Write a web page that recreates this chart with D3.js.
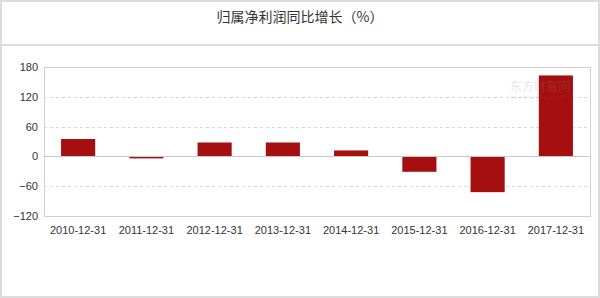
<!DOCTYPE html>
<html>
<head>
<meta charset="utf-8">
<script src="https://cdn.jsdelivr.net/npm/d3@7"></script>
<style>
  html, body { margin: 0; padding: 0; background: #fff; }
  svg { display: block; font-family: "Liberation Sans", Arial, sans-serif; }
</style>
</head>
<body>
<div id="chart"></div>
<script>
var title = "归属净利润同比增长（%）";
var categories = ["2010-12-31", "2011-12-31", "2012-12-31", "2013-12-31",
                  "2014-12-31", "2015-12-31", "2016-12-31", "2017-12-31"];
var values = [35, -4, 28, 28, 12, -31, -72, 163];
var yTicks = [-120, -60, 0, 60, 120, 180];

var W = 600, H = 298;
var margin = { top: 67, right: 10, bottom: 82, left: 44 };
var iW = W - margin.left - margin.right;
var iH = H - margin.top - margin.bottom;

var svg = d3.select("#chart").append("svg")
  .attr("width", W).attr("height", H);

// outer frame and title band
svg.append("rect")
  .attr("x", 1).attr("y", 1).attr("width", W - 2).attr("height", H - 2)
  .attr("fill", "#fff").attr("stroke", "#dcdcdc").attr("stroke-width", 2);
svg.append("line")
  .attr("x1", 1).attr("x2", W - 1).attr("y1", 45).attr("y2", 45)
  .attr("stroke", "#dcdcdc").attr("stroke-width", 2);
svg.append("text")
  .attr("x", W / 2).attr("y", 22)
  .attr("text-anchor", "middle")
  .attr("font-family", "'Noto Sans CJK SC', sans-serif")
  .attr("font-size", 14).attr("fill", "#333")
  .text(title);

var g = svg.append("g")
  .attr("transform", "translate(" + margin.left + "," + margin.top + ")");

var x = d3.scaleBand().domain(categories).range([0, iW]).paddingInner(0.5).paddingOuter(0.25);
var y = d3.scaleLinear().domain([-120, 180]).range([iH, 0]);

// plot frame
g.append("rect")
  .attr("x", 0.5).attr("y", 0.5).attr("width", iW).attr("height", iH)
  .attr("fill", "none").attr("stroke", "#d0d0d0");

// grid
g.selectAll(".grid")
  .data(yTicks.filter(function (t) { return t !== 0 && t !== -120 && t !== 180; }))
  .join("line")
  .attr("class", "grid")
  .attr("x1", 0).attr("x2", iW)
  .attr("y1", function (d) { return Math.round(y(d)) + 0.5; })
  .attr("y2", function (d) { return Math.round(y(d)) + 0.5; })
  .attr("stroke", "#d8d8d8").attr("stroke-dasharray", "3,3");

// bars
g.selectAll(".bar")
  .data(values)
  .join("rect")
  .attr("class", "bar")
  .attr("x", function (d, i) { return x(categories[i]); })
  .attr("width", x.bandwidth())
  .attr("y", function (d) { return y(Math.max(0, d)); })
  .attr("height", function (d) { return Math.abs(y(d) - y(0)); })
  .attr("fill", "#a50f0f");

// zero line
g.append("line")
  .attr("x1", 0).attr("x2", iW)
  .attr("y1", Math.round(y(0)) + 0.5).attr("y2", Math.round(y(0)) + 0.5)
  .attr("stroke", "#c8c8c8");

// watermark, faint, over the plot
var wm = g.append("g").attr("transform", "translate(" + (iW - 80) + ",24)").attr("opacity", 0.2);
wm.append("text").attr("x", 0).attr("y", 0)
  .attr("font-family", "'Noto Sans CJK SC', sans-serif").attr("font-size", 12).attr("fill", "#888")
  .text("东方财富网");
wm.append("text").attr("x", 0).attr("y", 8)
  .attr("font-size", 6).attr("fill", "#888").attr("letter-spacing", 1)
  .text("eastmoney.com");

// y axis
g.append("g")
  .call(d3.axisLeft(y).tickValues(yTicks).tickSize(0).tickPadding(6))
  .call(function (a) {
    a.select(".domain").remove();
    a.selectAll("text").attr("font-size", 11).attr("fill", "#333");
  });

// x axis
g.append("g")
  .attr("transform", "translate(0," + iH + ")")
  .call(d3.axisBottom(x).tickSize(0).tickPadding(10))
  .call(function (a) {
    a.select(".domain").remove();
    a.selectAll("text").attr("font-size", 11).attr("fill", "#333");
  });
</script>
</body>
</html>
